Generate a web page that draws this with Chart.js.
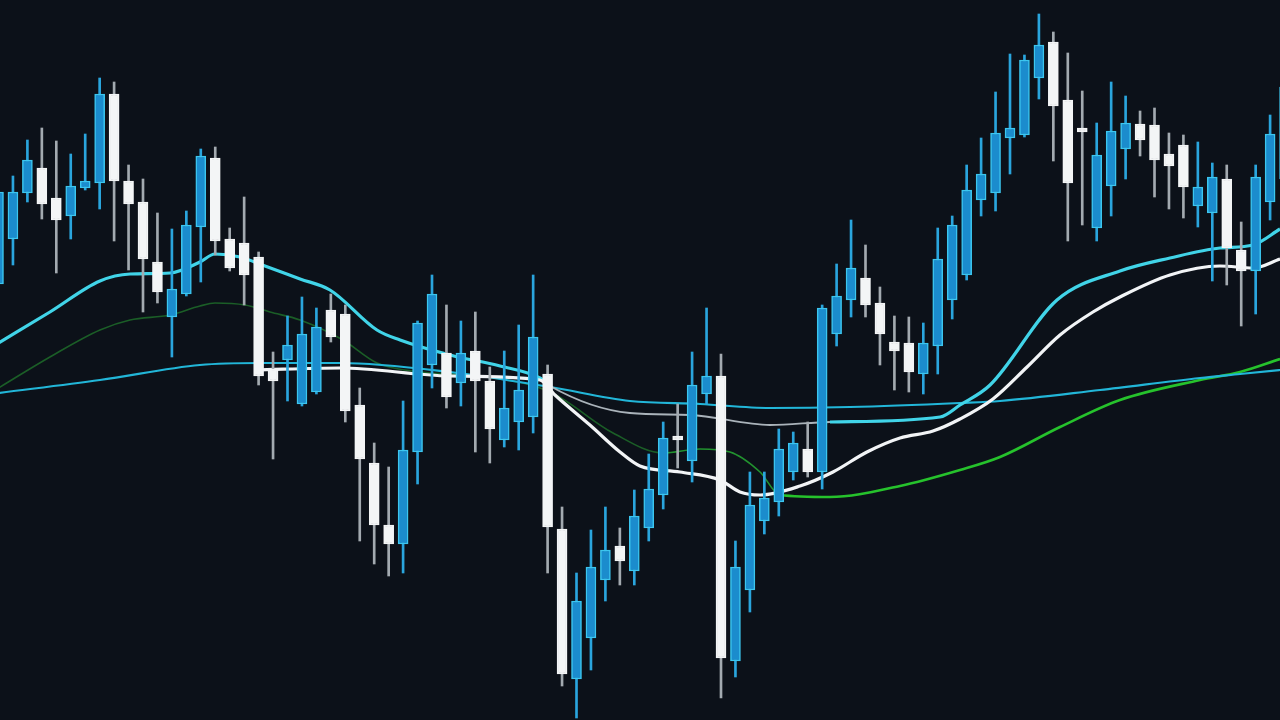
<!DOCTYPE html>
<html>
<head>
<meta charset="utf-8">
<script src="https://cdn.jsdelivr.net/npm/chart.js@4.4.1/dist/chart.umd.min.js"></script>
<style>
  html, body { margin: 0; padding: 0; background: #0c1119; overflow: hidden; }
  #wrap { width: 1280px; height: 720px; }
</style>
</head>
<body>
<div id="wrap"><canvas id="c" width="1280" height="720"></canvas></div>
<script>
// ---- Candle data (one entry per bar) ----
const open  = [436,481,527,552,522,504,532,537,626,539,518,458,403,426,493,562,481,477,463,351,360,316,328,410,406,315,257,195,176,268,355,367,337,369,339,280,298,303,346,191,41,82,140,174,149,192,225,284,259,326,344,59,130,199,218,248,271,248,386,420,442,417,378,377,346,374,420,445,520,527,582,585,642,678,620,592,492,534,571,596,595,566,575,514,507,541,470,449,518,541];
const close = [528,528,560,516,500,534,539,626,539,516,461,428,431,495,564,479,452,445,344,339,375,386,393,383,309,261,195,176,270,397,426,323,367,339,291,312,330,383,193,46,119,153,170,159,204,231,282,280,335,344,62,153,215,222,271,277,248,412,424,452,415,386,369,348,377,461,495,530,546,587,592,660,675,614,537,588,565,589,597,580,560,554,533,533,543,472,449,543,586,633];
const high  = [534,544,580,592,579,566,586,642,638,555,541,507,491,509,571,573,492,523,468,368,404,423,412,426,415,332,277,253,319,399,445,415,399,408,353,369,395,445,355,213,147,190,213,192,230,266,298,316,368,412,366,179,248,248,291,288,298,415,456,500,475,433,404,403,397,492,504,555,582,628,666,665,706,688,667,629,597,638,624,609,612,587,585,578,557,555,498,555,605,640];
const low   = [428,455,518,501,447,481,530,511,479,450,408,417,363,424,438,465,449,415,335,261,319,314,326,378,298,179,156,144,147,236,332,312,314,268,257,273,270,287,147,34,2,50,119,135,135,179,211,252,238,316,22,43,108,186,204,240,243,231,374,403,403,355,330,328,326,346,401,440,504,509,546,583,621,559,479,495,479,504,541,564,523,511,502,493,439,435,394,406,500,535];

// ---- Moving averages (x = bar index, y = value) ----
const fastX  = [0.0,3.56,7.02,9.10,11.87,13.94,14.98,16.71,18.44,20.87,22.94,26.19,27.79,31.25,34.71,37.47,38.17,43.70,47.85,53.39,57.54,65.16,66.54,68.62,73.25,77.61,81.07,84.53,86.82,88.69];
const fastY  = [377,408,439,446,447,458,466,463,454,441,430,390,380,365,354,342,334,307,305,295,298,303,315,335,420,449,462,472,475,491];
const slowX  = [0.0,7.02,13.94,18.10,23.63,31.25,38.17,43.70,48.55,53.39,58.93,66.54,69.31,76.23,83.15,85.92,88.69];
const slowY  = [327,340,355,357,357,348,333,319,316,312,313,317,319,330,342,346,350];
const whiteX = [17.75,23.63,31.25,37.47,38.51,40.93,43.01,44.39,47.16,49.93,51.31,52.70,55.47,57.75,60.10,62.39,64.67,66.54,68.82,71.18,73.46,75.74,77.61,81.07,84.53,86.82,88.69];
const whiteY = [350,352,344,340,325,295,268,254,248,240,228,225,234,248,268,282,289,301,321,353,385,408,423,445,454,452,461];
const greenX = [0.0,3.56,7.02,9.10,11.87,13.94,14.98,17.06,18.79,20.87,23.84,26.19,29.17,33.32,38.17,42.53,45.99,48.55,50.62,52.70,54.08,57.54,62.39,66.54,69.31,73.46,77.61,83.15,85.92,88.69];
const greenY = [332,363,390,400,405,414,417,415,408,400,380,357,348,344,328,287,267,271,268,248,225,223,234,250,263,293,320,340,348,361];

const fastGrayFrom = 38.1, fastGrayTo = 57.5;
const greenMidFrom = 45.8, greenBrightFrom = 54.0;

const BLUE_BODY = '#1b8ccd', BLUE_EDGE = '#3cc6ef', BLUE_WICK = '#2aa5dd';
const WHITE_BODY = '#f3f5f6', WHITE_WICK = '#a3aab0';

const up = open.map((o, i) => close[i] >= o);
const bodies = open.map((o, i) => ({ x: i, y: [o, close[i]] }));
const wicks = open.map((o, i) => ({ x: i, y: [low[i], high[i]] }));
const pts = (xs, ys) => xs.map((x, i) => ({ x, y: ys[i] }));
const inGray = ctx => ctx.p0.parsed.x >= fastGrayFrom && ctx.p0.parsed.x < fastGrayTo;

new Chart(document.getElementById('c'), {
  type: 'bar',
  data: {
    datasets: [
      {
        type: 'bar', data: bodies, order: 0, grouped: false,
        barThickness: 10,
        backgroundColor: up.map(u => u ? BLUE_BODY : WHITE_BODY),
        borderColor: up.map(u => u ? BLUE_EDGE : WHITE_BODY),
        borderWidth: 1.5, borderSkipped: false
      },
      {
        type: 'bar', data: wicks, order: 1, grouped: false,
        barThickness: 2,
        backgroundColor: up.map(u => u ? BLUE_WICK : WHITE_WICK),
        borderWidth: 0
      },
      {
        type: 'line', data: pts(whiteX, whiteY), order: 2,
        borderColor: '#f2f4f6', borderWidth: 3.2, pointRadius: 0,
        cubicInterpolationMode: 'monotone'
      },
      {
        type: 'line', data: pts(fastX, fastY), order: 3,
        pointRadius: 0, cubicInterpolationMode: 'monotone',
        borderColor: '#41d4e8', borderWidth: 3.2,
        segment: {
          borderColor: ctx => inGray(ctx) ? '#aab3ba' : '#41d4e8',
          borderWidth: ctx => inGray(ctx) ? 1.8 : 3.2
        }
      },
      {
        type: 'line', data: pts(slowX, slowY), order: 4,
        borderColor: '#22b6d8', borderWidth: 2.2, pointRadius: 0,
        cubicInterpolationMode: 'monotone'
      },
      {
        type: 'line', data: pts(greenX, greenY), order: 5,
        pointRadius: 0, cubicInterpolationMode: 'monotone',
        borderColor: '#1b5e27', borderWidth: 1.6,
        segment: {
          borderColor: ctx => ctx.p0.parsed.x >= greenBrightFrom ? '#26c22c' : (ctx.p0.parsed.x >= greenMidFrom ? '#22922f' : '#1b5e27'),
          borderWidth: ctx => ctx.p0.parsed.x >= greenBrightFrom ? 2.6 : 1.6
        }
      }
    ]
  },
  options: {
    responsive: false,
    animation: false,
    devicePixelRatio: 1,
    layout: { padding: 0 },
    plugins: { legend: { display: false }, tooltip: { enabled: false } },
    scales: {
      x: { type: 'linear', display: false, min: 0.1038, max: 88.685, offset: false, grid: { display: false } },
      y: { type: 'linear', display: false, min: 0, max: 720, grid: { display: false } }
    }
  }
});
</script>
</body>
</html>
